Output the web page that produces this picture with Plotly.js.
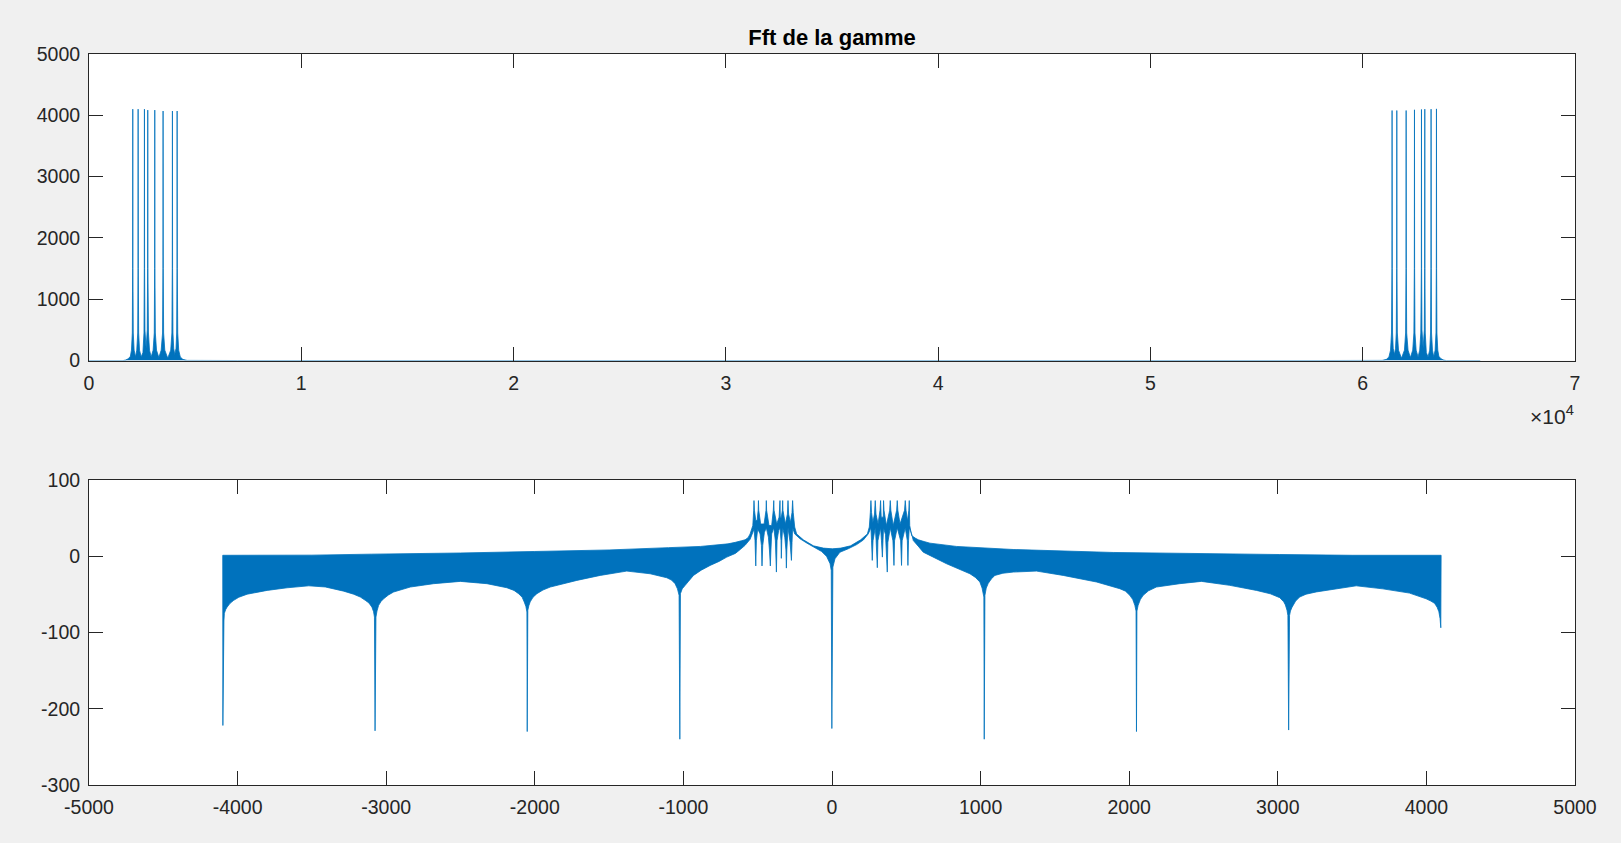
<!DOCTYPE html>
<html><head><meta charset="utf-8">
<script src="https://cdn.plot.ly/plotly-3.0.1.min.js"></script>
<style>html,body{margin:0;padding:0;background:#f0f0f0}#g{width:1621px;height:843px}</style>
</head><body><div id="g"></div>
<script>
// Upper panel: magnitude envelope of the spectrum
const magX = [0,1600,1720,1850,1950,2000,2040,2055,2062,2069,2085,2125,2190,2250,2295,2308,2315,2322,2340,2380,2460,2540,2590,2605,2612,2619,2635,2690,2745,2761,2768,2775,2800,2850,2930,3020,3075,3091,3098,3105,3125,3180,3290,3400,3465,3483,3490,3497,3515,3570,3710,3850,3905,3923,3930,3937,3955,3990,4040,4100,4130,4145,4152,4159,4180,4225,4300,4420,4620,7000,30000,58000,60916,61116,61236,61311,61356,61377,61384,61391,61406,61436,61496,61546,61581,61599,61606,61613,61631,61686,61826,61966,62021,62039,62046,62053,62071,62136,62246,62356,62411,62431,62438,62445,62461,62516,62606,62686,62736,62761,62768,62775,62791,62846,62901,62917,62924,62931,62946,62996,63076,63156,63196,63214,63221,63228,63241,63286,63346,63411,63451,63467,63474,63481,63496,63536,63586,63686,63816,63936,65536];
const magY = [0,0,8,30,70,170,450,1500,4100,1500,450,170,60,170,450,1500,4100,1500,450,170,60,130,450,1500,4100,1500,500,200,500,1500,4085,1500,450,170,60,170,450,1500,4085,1500,450,170,50,170,450,1500,4070,1500,450,170,40,170,450,1500,4070,1500,450,200,100,200,450,1500,4070,1500,450,170,60,20,3,1,1,1,3,20,60,170,450,1500,4078,1500,450,200,100,200,450,1500,4078,1500,450,170,40,170,450,1500,4078,1500,450,170,50,170,450,1500,4090,1500,450,170,60,170,450,1500,4095,1500,500,200,500,1500,4100,1500,450,130,60,170,450,1500,4100,1500,450,170,60,170,450,1500,4105,1500,450,170,70,30,8,0,0];

// Lower panel: upper and lower edges of the dense band
const bandTopX = [-4100,-3500,-3100,-2500,-2000,-1500,-1100,-885,-700,-650,-610,-585,-565,-551,-533,-527,-525,-522,-513,-504,-497,-495,-493,-480,-457,-444,-442,-440,-424,-406,-395,-392,-390,-372,-356,-350,-348,-341,-334,-332,-330,-314,-300,-296,-292,-280,-269,-265,-261,-251,-238,-193,-125,-58,2,60,125,193,238,251,258,262,266,275,286,291,296,310,323,327,331,338,345,347,350,366,388,392,396,412,435,439,443,458,488,493,498,508,517,520,523,536,560,581,620,659,838,1219,1892,3013,3500,4099];
const bandTopY = [1,1.2,2.5,4,6,8,11,12.6,16,18,20,21.3,24,29,40,60,72.7,60,46.5,46.5,60,72.7,60,42,42,60,72.7,60,40,40,60,72.7,60,42,51,72.7,51,51,60,72.7,60,42,55,72.7,55,44,57,72.7,57,38,29,21.3,13.4,10.4,9.5,10.4,13.4,21.3,29,38,57,72.7,57,44,55,72.7,55,42,60,72.7,51,51,51,72.7,60,40,60,72.7,60,40,60,72.7,60,42,60,72.7,60,46,60,72.7,40,26.9,23.5,21.3,19,16.9,12.6,8.6,4.7,2,1,1];
const bandLowX = [-4100,-4099,-4092,-4089,-4080,-4071,-4051,-4026,-3992,-3936,-3801,-3667,-3521,-3410,-3286,-3219,-3174,-3141,-3116,-3096,-3085,-3079,-3075,-3069,-3062,-3051,-3035,-3017,-2985,-2950,-2838,-2681,-2501,-2322,-2188,-2140,-2109,-2085,-2071,-2060,-2053,-2051,-2047,-2040,-2031,-2012,-1986,-1945,-1896,-1717,-1560,-1381,-1224,-1112,-1080,-1056,-1040,-1029,-1024,-1020,-1008,-988,-965,-932,-880,-820,-760,-708,-650,-618,-585,-551,-533,-525,-518,-513,-509,-500,-484,-475,-471,-466,-455,-442,-428,-421,-415,-411,-406,-392,-381,-374,-370,-359,-350,-343,-341,-338,-332,-318,-310,-307,-304,-296,-282,-273,-269,-265,-251,-215,-170,-114,-70,-36,-13,-5,-1,6,20,53,109,166,211,244,262,266,271,276,291,297,305,309,327,333,339,343,347,360,372,376,392,410,417,421,439,462,468,472,493,507,511,515,520,536,547,580,614,771,928,965,995,1010,1022,1024.5,1029,1038,1051,1072,1096,1150,1220,1376,1556,1780,1937,1975,2004,2024,2038,2046,2049,2052,2060,2075,2094,2130,2183,2340,2486,2677,2856,2950,3013,3040,3051,3062,3068,3073,3079,3085,3096,3120,3147,3190,3259,3528,3707,3886,3998,4030,4055,4072,4084,4092,4097,4099];
const bandLowY = [1,-222,-85,-75,-70,-67,-62,-58,-54,-50,-45,-41.6,-39,-40.5,-46,-50,-53.7,-58,-61.5,-67,-73,-80,-229,-80,-72,-64.6,-59.5,-55.9,-51,-47.1,-40.6,-36.2,-33.2,-36.2,-41.5,-45,-49.3,-54,-60.2,-66,-73.3,-230,-71,-65,-60,-54,-49.3,-44.5,-40.6,-31.9,-25.4,-19.7,-23.2,-28.4,-31.5,-36.2,-43,-51.5,-240,-49.3,-43,-38.4,-33,-25.4,-18.5,-12.3,-7,-1.4,3.5,8.5,14,22,31,35.6,20,-13,20,35.6,29,14,-13,14,31,37,24.8,8,-13,8,29,37,20,-21,20,33.5,37,20,-3,20,37,24.8,8,-15.8,8,37,18,-5.7,18,37,29,22.6,17,10.8,6,-0.5,-10,-19,-226,-14.5,-3.6,5,9.5,15,21,29,37,20,-5.7,20,37,20,-15.3,20,37,20,-1.4,20,37,28,-21,18,37,20,-12.3,20,37,20,-12.3,20,37,20,-12.3,20,37,29,20.4,13,5.1,-10.1,-23.2,-28,-34,-42,-53.7,-240,-51.5,-42,-36,-30,-25.4,-22.5,-21,-19.7,-25.4,-34,-42.8,-46,-51.5,-57,-64.6,-72,-230,-72,-64.6,-57,-51.5,-45.5,-40.6,-36.2,-33.2,-38.4,-45,-49.5,-54.5,-60,-64,-71,-78,-228,-78,-72,-67,-59,-53.7,-50,-47,-39,-43,-48.5,-56,-59,-62,-67,-73,-82,-94,1];

// Tick labels
const topXTicks = [0,10000,20000,30000,40000,50000,60000,70000];
const topXLabels = ["0","1","2","3","4","5","6","7"];
const topYTicks = [0,1000,2000,3000,4000,5000];
const topYLabels = ["0","1000","2000","3000","4000","5000"];
const lowXTicks = [-5000,-4000,-3000,-2000,-1000,0,1000,2000,3000,4000,5000];
const lowXLabels = ["-5000","-4000","-3000","-2000","-1000","0","1000","2000","3000","4000","5000"];
const lowYTicks = [-300,-200,-100,0,100];
const lowYLabels = ["-300","-200","-100","0","100"];

const BLUE = "#0072BD", INK = "#262626", FONT = "Liberation Sans, Arial, sans-serif";
const line = {color: BLUE, width: 0.8, simplify: false};
const axis = {showgrid:false, zeroline:false, showline:true, linecolor:INK, linewidth:1,
  mirror:"ticks", ticks:"inside", ticklen:14, tickwidth:1, tickcolor:INK,
  tickfont:{family:FONT,size:19.5,color:INK}, tickmode:"array", fixedrange:true};

const data = [
  {x:magX, y:magY, type:"scatter", mode:"lines", line, fill:"tozeroy", fillcolor:BLUE, xaxis:"x", yaxis:"y", hoverinfo:"skip"},
  {x:bandLowX, y:bandLowY, type:"scatter", mode:"lines", line, xaxis:"x2", yaxis:"y2", hoverinfo:"skip"},
  {x:bandTopX, y:bandTopY, type:"scatter", mode:"lines", line, fill:"tonexty", fillcolor:BLUE, xaxis:"x2", yaxis:"y2", hoverinfo:"skip"}
];
const layout = {
  width:1621, height:843, showlegend:false,
  paper_bgcolor:"#f0f0f0", plot_bgcolor:"#ffffff",
  margin:{l:88.5,r:45.5,t:53.5,b:58,pad:0},
  title:{text:"<b>Fft de la gamme</b>", x:0.5, xanchor:"center", xref:"paper", y:1-37/843, yanchor:"middle", yref:"container",
         font:{family:FONT,size:22,color:"#000000"}},
  xaxis:Object.assign({},axis,{domain:[0,1],anchor:"y",range:[0,70000],tickvals:topXTicks,ticktext:topXLabels,ticklabelstandoff:5}),
  yaxis:Object.assign({},axis,{domain:[0.5806,1],anchor:"x",range:[0,5000],tickvals:topYTicks,ticktext:topYLabels,ticklabelstandoff:4}),
  xaxis2:Object.assign({},axis,{domain:[0,1],anchor:"y2",range:[-5000,5000],tickvals:lowXTicks,ticktext:lowXLabels,ticklabelstandoff:5}),
  yaxis2:Object.assign({},axis,{domain:[0,0.4176],anchor:"x2",range:[-300,100],tickvals:lowYTicks,ticktext:lowYLabels,ticklabelstandoff:4}),
  annotations:[{text:"×10<sup>4</sup>", xref:"paper", yref:"paper", x:1, y:0.5055, xanchor:"right", yanchor:"middle", showarrow:false,
                font:{family:FONT,size:21,color:INK}, borderpad:0}]
};
Plotly.newPlot("g", data, layout, {displayModeBar:false, staticPlot:true});
</script></body></html>
